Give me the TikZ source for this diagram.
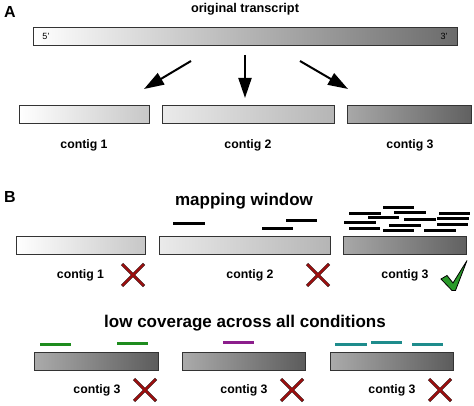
\documentclass[tikz,border=0pt]{standalone}
\usepackage{fontspec}
\setmainfont{Liberation Sans}
\usetikzlibrary{shadings,arrows.meta}
\definecolor{barline}{HTML}{333333}
\definecolor{xred}{HTML}{A01010}
\definecolor{ckgreen}{HTML}{2A9A2A}
\definecolor{rgreen}{HTML}{1E8C1E}
\definecolor{rpurple}{HTML}{8C1E8C}
\definecolor{rteal}{HTML}{1E8C8C}
\tikzset{
  bar/.style={draw=barline, line width=1pt, rectangle, inner sep=0pt, minimum height=18pt},
  lbl/.style={font=\fontsize{12.3}{14}\selectfont\bfseries, inner sep=0pt},
  title/.style={font=\fontsize{12.7}{15}\selectfont\bfseries, inner sep=0pt},
  bigtitle/.style={font=\fontsize{17}{20}\selectfont\bfseries, inner sep=0pt},
  panel/.style={font=\fontsize{16}{18}\selectfont\bfseries, inner sep=0pt},
  bigarrow/.style={line width=2pt, -{Triangle[length=20pt,width=13pt]}},
  read/.style={line width=3pt},
}
\newcommand{\drawcross}[2]{%
  \draw[line width=3pt, black!70!xred] (#1-11,#2-11) -- (#1+11,#2+11) (#1-11,#2+11) -- (#1+11,#2-11);
  \draw[line width=1.8pt, xred] (#1-10.6,#2-10.6) -- (#1+10.6,#2+10.6) (#1-10.6,#2+10.6) -- (#1+10.6,#2-10.6);
}
\begin{document}
\begin{tikzpicture}[x=1pt,y=-1pt]
\useasboundingbox (0,0) rectangle (474,406);
% Panel A
\node[panel] (pa) at (10,12) {A};
\node[title] (ttl) at (245,9) {original transcript};
\node[bar, minimum width=424pt, left color=white, right color=black!58] (tr) at (245,36.5) {};
\node[font=\fontsize{9}{10}\selectfont, inner sep=0pt] (p5) at (46,36.5) {5'};
\node[font=\fontsize{9}{10}\selectfont, inner sep=0pt] (p3) at (444,36.5) {3'};
\coordinate (a1s) at (191,61); \coordinate (a1e) at (144,89);
\coordinate (a2s) at (245,55); \coordinate (a2e) at (245,98);
\coordinate (a3s) at (300,61); \coordinate (a3e) at (348,89);
\draw[bigarrow] (a1s) -- (a1e);
\draw[bigarrow] (a2s) -- (a2e);
\draw[bigarrow] (a3s) -- (a3e);
\node[bar, minimum width=130pt, left color=white, right color=black!22] (c1) at (84,115) {};
\node[bar, minimum width=172pt, left color=black!8, right color=black!29] (c2) at (248,115) {};
\node[bar, minimum width=124pt, left color=black!34, right color=black!62] (c3) at (409,115) {};
\node[lbl] (l1) at (84,145) {contig 1};
\node[lbl] (l2) at (248,145) {contig 2};
\node[lbl] (l3) at (410,145) {contig 3};
% Panel B
\node[panel] (pb) at (10,197) {B};
\node[bigtitle] (mw) at (244,201) {mapping window};
\node[bar, minimum width=129pt, left color=white, right color=black!22] (b1) at (80.5,245.5) {};
\node[bar, minimum width=171pt, left color=black!8, right color=black!29] (b2) at (244.5,245.5) {};
\node[bar, minimum width=123pt, left color=black!34, right color=black!62] (b3) at (404.5,245.5) {};
\node[lbl] (bl1) at (80.5,275) {contig 1};
\node[lbl] (bl2) at (250,275) {contig 2};
\node[lbl] (bl3) at (405,275) {contig 3};
\drawcross{133}{275}
\drawcross{318}{275}
\draw[line width=0.8pt, fill=ckgreen] (441,279) -- (447,275.5) -- (453,283) -- (467,260.5) -- (455.5,290.5) -- (452,290.5) -- cycle;
% reads contig 2
\draw[read] (173,224) -- (205,224);
\draw[read] (262,229) -- (293,229);
\draw[read] (286,221) -- (317,221);
% reads contig 3
\draw[read] (383,208) -- (414,208);
\draw[read] (349,214) -- (381,214);
\draw[read] (394,213) -- (426,213);
\draw[read] (439,214) -- (470,214);
\draw[read] (368,218) -- (399,218);
\draw[read] (404,220) -- (436,220);
\draw[read] (437,219) -- (469,219);
\draw[read] (344,223) -- (376,223);
\draw[read] (389,226) -- (421,226);
\draw[read] (437,225) -- (468,225);
\draw[read] (349,229) -- (380,229);
\draw[read] (383,231) -- (414,231);
\draw[read] (424,231) -- (456,231);
% Low coverage
\node[bigtitle] (lc) at (245,323) {low coverage across all conditions};
\node[bar, minimum width=124pt, left color=black!33, right color=black!64] (d1) at (96,361) {};
\node[bar, minimum width=123pt, left color=black!33, right color=black!64] (d2) at (243.5,361) {};
\node[bar, minimum width=123pt, left color=black!33, right color=black!64] (d3) at (391.5,361) {};
\draw[read, rgreen] (40,344) -- (71,344);
\draw[read, rgreen] (117,343) -- (148,343);
\draw[read, rpurple] (223,342) -- (254,342);
\draw[read, rteal] (335,344) -- (367,344);
\draw[read, rteal] (371,342) -- (402,342);
\draw[read, rteal] (412,344) -- (443,344);
\node[lbl] (dl1) at (97,390) {contig 3};
\node[lbl] (dl2) at (244,390) {contig 3};
\node[lbl] (dl3) at (392,390) {contig 3};
\drawcross{145}{390}
\drawcross{292}{390}
\drawcross{440}{390}
\end{tikzpicture}
\end{document}
